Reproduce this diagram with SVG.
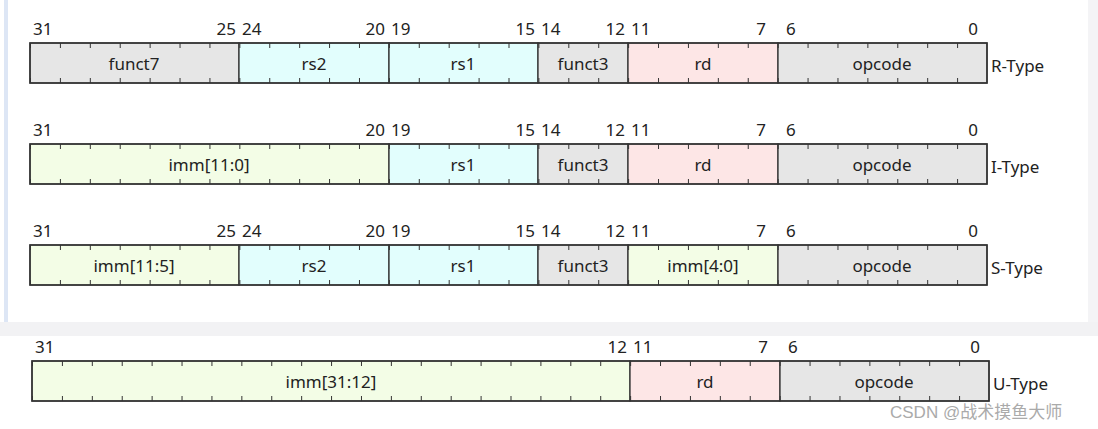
<svg xmlns="http://www.w3.org/2000/svg" width="1098" height="429" viewBox="0 0 1098 429">
<style>
text{font-family:"Noto Sans","DejaVu Sans",sans-serif;font-size:17px;fill:#222}
.e{text-anchor:end}.m{text-anchor:middle}
.f{stroke:#333;stroke-width:1.3}
.g{fill:#e6e6e6}.c{fill:#e2fefd}.y{fill:#f3fde6}.p{fill:#fde6e6}
.o{fill:none;stroke:#333;stroke-width:1.5}
</style>
<defs>
<pattern id="t" patternUnits="userSpaceOnUse" x="30" y="43" width="29.906" height="40">
<path d="M0.5,0V5M0.5,35V40" stroke="#333" stroke-width="1"/>
</pattern>
</defs>
<rect width="1098" height="429" fill="#fff"/>
<rect x="0" y="322" width="1098" height="14" fill="#f2f2f4"/>
<rect x="4" y="0" width="4" height="322" fill="#dde6f5"/>
<rect x="1088" y="0" width="10" height="322" fill="#f4f4f6"/>
<g id="r-type">
<rect class="f g" x="30" y="43" width="209" height="40"/>
<rect class="f c" x="239" y="43" width="150" height="40"/>
<rect class="f c" x="389" y="43" width="149" height="40"/>
<rect class="f g" x="538" y="43" width="90" height="40"/>
<rect class="f p" x="628" y="43" width="150" height="40"/>
<rect class="f g" x="778" y="43" width="209" height="40"/>
<rect x="30" y="43" width="957" height="40" fill="url(#t)"/>
<rect class="o" x="30" y="43" width="957" height="40"/>
<text x="33" y="35">31</text><text class="e" x="236" y="35">25</text><text x="242" y="35">24</text><text class="e" x="385" y="35">20</text><text x="391" y="35">19</text><text class="e" x="535" y="35">15</text><text x="541" y="35">14</text><text class="e" x="625" y="35">12</text><text x="631" y="35">11</text><text class="e" x="766" y="35">7</text><text x="786" y="35">6</text><text class="e" x="978" y="35">0</text>
<text class="m" x="134" y="70">funct7</text><text class="m" x="314" y="70">rs2</text><text class="m" x="463" y="70">rs1</text><text class="m" x="583" y="70">funct3</text><text class="m" x="703" y="70">rd</text><text class="m" x="882" y="70">opcode</text>
<text x="991" y="72">R-Type</text>
</g>
<g id="i-type" transform="translate(0,101)">
<rect class="f y" x="30" y="43" width="359" height="40"/>
<rect class="f c" x="389" y="43" width="149" height="40"/>
<rect class="f g" x="538" y="43" width="90" height="40"/>
<rect class="f p" x="628" y="43" width="150" height="40"/>
<rect class="f g" x="778" y="43" width="209" height="40"/>
<rect x="30" y="43" width="957" height="40" fill="url(#t)"/>
<rect class="o" x="30" y="43" width="957" height="40"/>
<text x="33" y="35">31</text><text class="e" x="385" y="35">20</text><text x="391" y="35">19</text><text class="e" x="535" y="35">15</text><text x="541" y="35">14</text><text class="e" x="625" y="35">12</text><text x="631" y="35">11</text><text class="e" x="766" y="35">7</text><text x="786" y="35">6</text><text class="e" x="978" y="35">0</text>
<text class="m" x="209" y="70">imm[11:0]</text><text class="m" x="463" y="70">rs1</text><text class="m" x="583" y="70">funct3</text><text class="m" x="703" y="70">rd</text><text class="m" x="882" y="70">opcode</text>
<text x="991" y="72">I-Type</text>
</g>
<g id="s-type" transform="translate(0,202)">
<rect class="f y" x="30" y="43" width="209" height="40"/>
<rect class="f c" x="239" y="43" width="150" height="40"/>
<rect class="f c" x="389" y="43" width="149" height="40"/>
<rect class="f g" x="538" y="43" width="90" height="40"/>
<rect class="f y" x="628" y="43" width="150" height="40"/>
<rect class="f g" x="778" y="43" width="209" height="40"/>
<rect x="30" y="43" width="957" height="40" fill="url(#t)"/>
<rect class="o" x="30" y="43" width="957" height="40"/>
<text x="33" y="35">31</text><text class="e" x="236" y="35">25</text><text x="242" y="35">24</text><text class="e" x="385" y="35">20</text><text x="391" y="35">19</text><text class="e" x="535" y="35">15</text><text x="541" y="35">14</text><text class="e" x="625" y="35">12</text><text x="631" y="35">11</text><text class="e" x="766" y="35">7</text><text x="786" y="35">6</text><text class="e" x="978" y="35">0</text>
<text class="m" x="134" y="70">imm[11:5]</text><text class="m" x="314" y="70">rs2</text><text class="m" x="463" y="70">rs1</text><text class="m" x="583" y="70">funct3</text><text class="m" x="703" y="70">imm[4:0]</text><text class="m" x="882" y="70">opcode</text>
<text x="991" y="72">S-Type</text>
</g>
<g id="u-type" transform="translate(2,318)">
<rect class="f y" x="30" y="43" width="598" height="40"/>
<rect class="f p" x="628" y="43" width="150" height="40"/>
<rect class="f g" x="778" y="43" width="209" height="40"/>
<rect x="30" y="43" width="957" height="40" fill="url(#t)"/>
<rect class="o" x="30" y="43" width="957" height="40"/>
<text x="33" y="35">31</text><text class="e" x="625" y="35">12</text><text x="631" y="35">11</text><text class="e" x="766" y="35">7</text><text x="786" y="35">6</text><text class="e" x="978" y="35">0</text>
<text class="m" x="329" y="70">imm[31:12]</text><text class="m" x="703" y="70">rd</text><text class="m" x="882" y="70">opcode</text>
<text x="991" y="72">U-Type</text>
</g>
<text x="890" y="418" style="font-family:'Liberation Sans','Noto Sans CJK SC',sans-serif;font-size:17px;fill:#aaa">CSDN @战术摸鱼大师</text>
</svg>
